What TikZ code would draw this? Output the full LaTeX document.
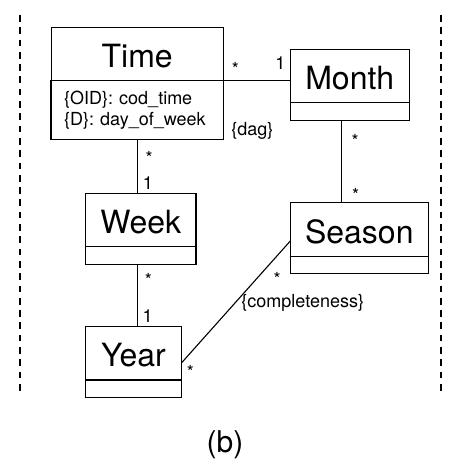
\documentclass[tikz,border=0pt]{standalone}
\usepackage{fontspec}
\setmainfont{TeX Gyre Heros}
\usepackage{tikz}
\usetikzlibrary{
  arrows,
  shapes,
}
\tikzstyle{basicbox}=[draw, line width=1.1pt, inner sep=0pt, outer sep=0pt]
\tikzstyle{classtitle}=[basicbox, rectangle, minimum height=53.5pt, text height=27pt, text depth=0pt, font=\fontsize{32}{38}\selectfont]
\tikzstyle{classattr}=[basicbox, rectangle, anchor=north, minimum height=17.5pt]
\tikzstyle{assoc}=[line width=1.1pt]
\tikzstyle{mult}=[inner sep=0pt, font=\fontsize{18}{21.6}\selectfont]
\tikzstyle{multstar}=[mult, yshift=-4pt]
\tikzstyle{constraint}=[mult]
\tikzstyle{frameline}=[line width=2pt, dash pattern=on 6.7pt off 5.6pt]

\begin{document}
\begin{tikzpicture}[x=1pt, y=1pt]
	\useasboundingbox (0,0) rectangle (474,474);
	\draw [frameline] (20,459) -- (20,80.7);
	\draw [frameline] (441,459) -- (441,80.7);
	\node (timetitle) [classtitle, minimum width=172.3pt] at (137.2,419.8) {Time};
	\node (timeattr) [classattr, minimum width=172.3pt, minimum height=58.6pt, text width=146pt, inner xsep=13.2pt, align=left, font=\fontsize{18}{21.7}\selectfont] at (timetitle.south) {\{OID\}: cod\_time\\\{D\}: day\_of\_week};
	\path (timetitle) + (212.5,-21.8) node (monthtitle) [classtitle, minimum width=118.7pt] {Month};
	\node (monthattr) [classattr, minimum width=118.7pt] at (monthtitle.south) {};
	\path (timetitle) + (3.6,-165.8) node (weektitle) [classtitle, minimum width=110.3pt] {Week};
	\node (weekattr) [classattr, minimum width=110.3pt, minimum height=18pt] at (weektitle.south) {};
	\path (timetitle) + (222.1,-175.5) node (seasontitle) [classtitle, minimum width=138pt] {Season};
	\node (seasonattr) [classattr, minimum width=138pt] at (seasontitle.south) {};
	\path (timetitle) + (-3.7,-299.1) node (yeartitle) [classtitle, minimum width=96.4pt] {Year};
	\node (yearattr) [classattr, minimum width=96.4pt] at (yeartitle.south) {};
	% associations
	\draw [assoc] (timetitle.south east) -- (monthtitle.west |- timetitle.south east);
	\draw [assoc] (timeattr.south) -- (weektitle.north -| timeattr.south);
	\draw [assoc] ([xshift=-8pt]monthattr.south) coordinate (monthseason) -- (monthseason |- seasontitle.north);
	\draw [assoc] (weekattr.south -| timeattr.south) -- (yeartitle.north -| timeattr.south);
	\draw [assoc] ([yshift=-9.4pt]yeartitle.east) -- ([yshift=-11.3pt]seasontitle.west);
	% multiplicities and constraints
	\path (timetitle.south east) + (12,15.7) node [multstar] {*};
	\path (monthtitle.west) + (-10,12.7) node [mult] {1};
	\path (timeattr.south east) + (29,8.3) node [constraint] {\{dag\}};
	\path (timeattr.south) + (11.8,-14) node [multstar] {*};
	\path (weektitle.north) + (7.2,10.6) node [mult] {1};
	\path (monthattr.south) + (5.3,-16.3) node [multstar] {*};
	\path (seasontitle.north) + (-3.6,12.3) node [multstar] {*};
	\path (weekattr.south) + (7.5,-11.3) node [multstar] {*};
	\path (yeartitle.north) + (14.2,10) node [mult] {1};
	\path (yeartitle.east) + (8.6,-14.4) node [multstar] {*};
	\path (seasontitle.west) + (-13.3,-45.3) node [multstar] {*};
	\path (seasonattr.south) + (-56.6,-29.3) node [constraint] {\{completeness\}};
	\node (caption) [font=\fontsize{30}{36}\selectfont, inner sep=0pt] at (225,29) {(b)};
\end{tikzpicture}
\end{document}
